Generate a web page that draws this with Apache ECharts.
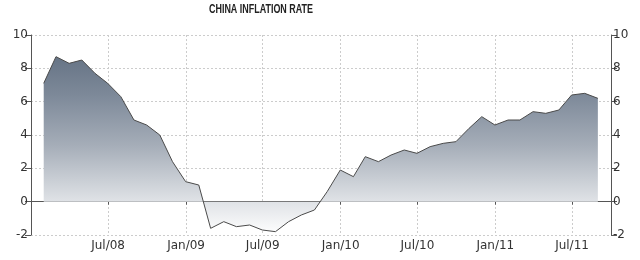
<!DOCTYPE html>
<html>
<head>
<meta charset="utf-8">
<script src="https://cdn.jsdelivr.net/npm/echarts@6/dist/echarts.min.js"></script>
<style>html,body{margin:0;padding:0;background:#fff}#c{width:640px;height:260px}</style>
</head>
<body>
<div id="c"></div>
<script>
var title = 'CHINA INFLATION RATE';
var months = ['2008-01','2008-02','2008-03','2008-04','2008-05','2008-06','2008-07','2008-08','2008-09','2008-10','2008-11','2008-12',
  '2009-01','2009-02','2009-03','2009-04','2009-05','2009-06','2009-07','2009-08','2009-09','2009-10','2009-11','2009-12',
  '2010-01','2010-02','2010-03','2010-04','2010-05','2010-06','2010-07','2010-08','2010-09','2010-10','2010-11','2010-12',
  '2011-01','2011-02','2011-03','2011-04','2011-05','2011-06','2011-07','2011-08'];
var inflation = [7.1,8.7,8.3,8.5,7.7,7.1,6.3,4.9,4.6,4.0,2.4,1.2,
  1.0,-1.6,-1.2,-1.5,-1.4,-1.7,-1.8,-1.2,-0.8,-0.5,0.6,1.9,
  1.5,2.7,2.4,2.8,3.1,2.9,3.3,3.5,3.6,4.4,5.1,4.6,
  4.9,4.9,5.4,5.3,5.5,6.4,6.5,6.2];
var xTickDates = ['2008-07-01','2009-01-01','2009-07-01','2010-01-01','2010-07-01','2011-01-01','2011-07-01'];
var xMin = '2008-01-01', xMax = '2011-10-01';
var yMin = -2, yMax = 10, yStep = 2;

function monthEnd(m){ var p = m.split('-'); return Date.UTC(+p[0], +p[1], 0); }
function toUTC(s){ var p = s.split('-'); return Date.UTC(+p[0], +p[1]-1, +p[2]); }
var mnames = ['Jan','Feb','Mar','Apr','May','Jun','Jul','Aug','Sep','Oct','Nov','Dec'];
var data = months.map(function(m,i){ return [monthEnd(m), inflation[i]]; });
var ticks = xTickDates.map(toUTC);

var font = 'DejaVu Sans';
var cv = document.createElement('canvas').getContext('2d');
cv.font = 'bold 12px "Liberation Sans"';
var titleScale = 104 / cv.measureText(title).width;

var chart = echarts.init(document.getElementById('c'), null, {renderer:'canvas'});
chart.setOption({
  animation: false,
  graphic: [{ type: 'text', x: 209, y: 4, scaleX: titleScale,
    style: { text: title, fontFamily: 'Liberation Sans', fontWeight: 'bold', fontSize: 12, fill: '#222' } }],
  grid: { left: 31, right: 29, top: 35, bottom: 25, containLabel: false },
  xAxis: {
    type: 'value', min: toUTC(xMin), max: toUTC(xMax),
    axisLine: { show: true, lineStyle: { color: '#555', width: 1 } },
    axisTick: { show: true, length: 3, customValues: ticks, lineStyle: { color: '#555' } },
    axisLabel: { customValues: ticks, margin: 5, fontFamily: font, fontSize: 12, color: '#333',
      formatter: function(v){ var d = new Date(v); return mnames[d.getUTCMonth()] + '/' + String(d.getUTCFullYear()).slice(2); } },
    splitLine: { show: true, lineStyle: { color: '#cccccc', type: [2,2] } }
  },
  yAxis: [{
    type: 'value', position: 'left', min: yMin, max: yMax, interval: yStep,
    axisLine: { show: true, lineStyle: { color: '#555' } },
    axisTick: { show: true, length: 6, lineStyle: { color: '#555' } },
    axisLabel: { margin: 3, fontFamily: font, fontSize: 12, color: '#333' },
    splitLine: { show: true, lineStyle: { color: '#cccccc', type: [2,2] } }
  }, {
    type: 'value', position: 'right', min: yMin, max: yMax, interval: yStep,
    axisLine: { show: true, lineStyle: { color: '#555' } },
    axisTick: { show: true, length: 6, lineStyle: { color: '#555' } },
    axisLabel: { margin: 2, fontFamily: font, fontSize: 12, color: '#333' },
    splitLine: { show: false }
  }],
  series: [{
    type: 'line', data: data, yAxisIndex: 0, showSymbol: false, symbol: 'none',
    lineStyle: { color: '#4a4a4a', width: 1 },
    areaStyle: { origin: 0, opacity: 1, color: new echarts.graphic.LinearGradient(0, 35, 0, 235, [
      { offset: 0, color: '#5a687a' },
      { offset: 0.3, color: '#7d8999' },
      { offset: 0.55, color: '#a5adb8' },
      { offset: 0.83, color: '#dfe2e6' },
      { offset: 1, color: '#ffffff' }
    ], true) }
  }]
});
</script>
</body>
</html>
